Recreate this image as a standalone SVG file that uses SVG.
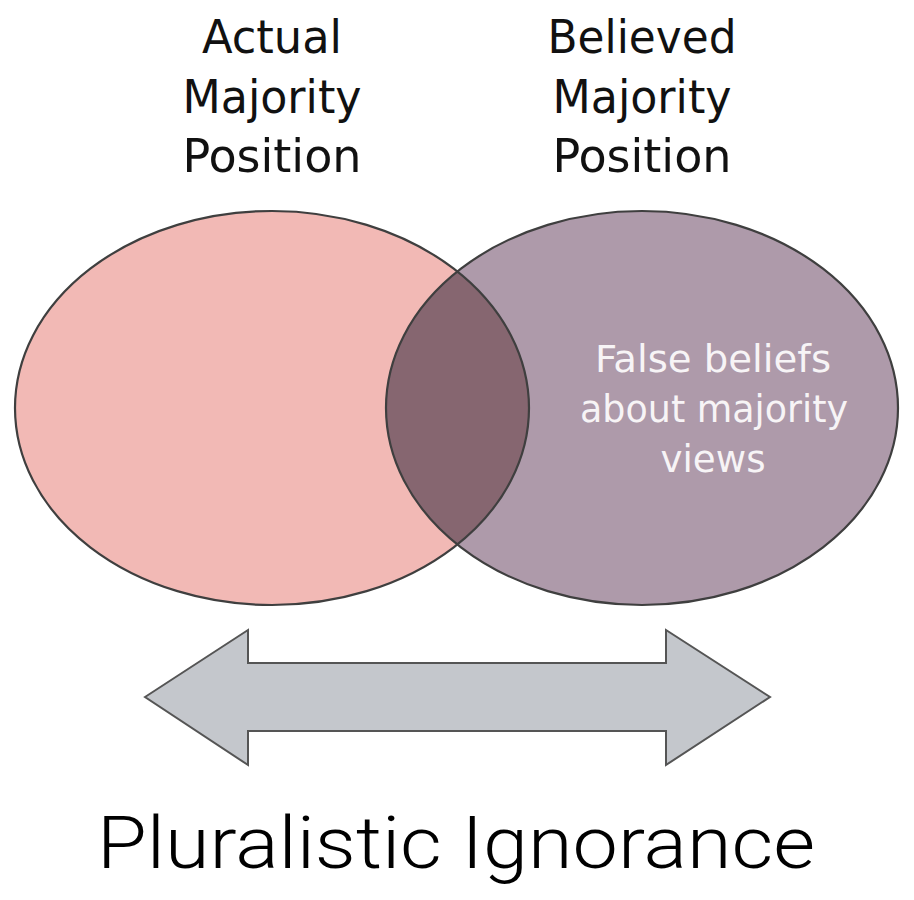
<svg xmlns="http://www.w3.org/2000/svg" width="914" height="900" viewBox="0 0 914 900">
<style>
.hdr{font-family:"DejaVu Sans Condensed","DejaVu Sans",sans-serif;font-size:46px;fill:#111;text-anchor:middle}
.inner{font-family:"DejaVu Sans Condensed","DejaVu Sans",sans-serif;font-size:37px;fill:#f7f4f6;text-anchor:middle}
.title{font-family:"Roboto","DejaVu Sans",sans-serif;font-weight:300;font-size:72px;fill:#000}
.outline{fill:none;stroke:#3f3f3f;stroke-width:2.2}
</style>
<defs>
<clipPath id="clipL"><ellipse cx="272" cy="408" rx="257" ry="197"/></clipPath>
</defs>
<rect width="914" height="900" fill="#fff"/>
<g id="actual">
<ellipse cx="272" cy="408" rx="257" ry="197" fill="#f2b9b5"/>
<text class="hdr" x="272" y="53" textLength="140" lengthAdjust="spacingAndGlyphs">Actual</text>
<text class="hdr" x="272" y="113" textLength="179" lengthAdjust="spacingAndGlyphs">Majority</text>
<text class="hdr" x="272" y="172" textLength="179" lengthAdjust="spacingAndGlyphs">Position</text>
</g>
<g id="believed">
<ellipse cx="642" cy="408" rx="256" ry="197" fill="#ae9aaa"/>
<text class="hdr" x="642" y="53" textLength="189" lengthAdjust="spacingAndGlyphs">Believed</text>
<text class="hdr" x="642" y="113" textLength="179" lengthAdjust="spacingAndGlyphs">Majority</text>
<text class="hdr" x="642" y="172" textLength="179" lengthAdjust="spacingAndGlyphs">Position</text>
</g>
<g id="overlap">
<ellipse cx="642" cy="408" rx="256" ry="197" fill="#866670" clip-path="url(#clipL)"/>
</g>
<g id="outlines">
<ellipse class="outline" cx="272" cy="408" rx="257" ry="197"/>
<ellipse class="outline" cx="642" cy="408" rx="256" ry="197"/>
</g>
<g id="false-beliefs">
<text class="inner" x="713" y="372" textLength="236" lengthAdjust="spacingAndGlyphs">False beliefs</text>
<text class="inner" x="714" y="422" textLength="268" lengthAdjust="spacingAndGlyphs">about majority</text>
<text class="inner" x="713" y="472" textLength="105" lengthAdjust="spacingAndGlyphs">views</text>
</g>
<g id="connectors">
<polygon points="145,697 248,630 248,663 666,663 666,630 770,697 666,765 666,731 248,731 248,765" fill="#c4c7cc" stroke="#555" stroke-width="2" stroke-linejoin="miter"/>
</g>
<g id="title">
<text class="title" x="97" y="868" textLength="718" lengthAdjust="spacingAndGlyphs">Pluralistic Ignorance</text>
</g>
</svg>
